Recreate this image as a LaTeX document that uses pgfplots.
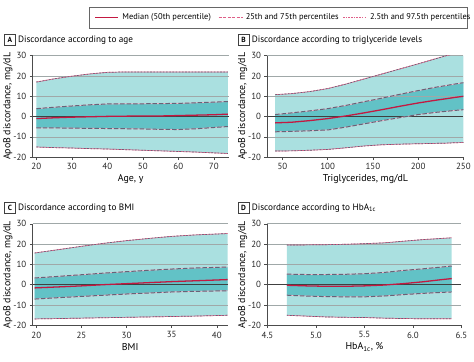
\documentclass[border=0pt]{standalone}
\usepackage{fontspec}
\setmainfont{PT Sans}
\usepackage{pgfplots}
\usepackage{pgfplotstable}
\pgfplotsset{compat=1.18}
\usepgfplotslibrary{fillbetween}

\definecolor{outerfill}{RGB}{170,224,224}
\definecolor{innerfill}{RGB}{98,194,198}
\definecolor{medred}{RGB}{195,25,65}
\definecolor{pinkl}{RGB}{222,95,135}
\definecolor{grayd}{RGB}{105,98,118}
\definecolor{gridc}{RGB}{160,168,168}

\pgfplotstableread{
x p025 p25 p50 p75 p975 top
20 -15.0 -5.6 -1.0 3.9 17.0 17.0
25 -15.3 -5.6 -0.6 4.6 18.6 18.6
30 -15.5 -5.7 -0.3 5.2 19.9 19.9
35 -15.8 -5.8 -0.1 5.8 21.0 21.0
40 -16.0 -5.9 0.1 6.2 21.8 21.8
45 -16.3 -6.0 0.2 6.3 22.0 22.0
50 -16.6 -6.1 0.3 6.3 22.0 22.0
55 -16.9 -6.3 0.3 6.4 22.0 22.0
60 -17.2 -6.4 0.5 6.5 22.0 22.0
65 -17.5 -6.0 0.7 6.8 22.0 22.0
70 -17.9 -5.4 0.9 7.1 22.0 22.0
74 -18.2 -4.9 1.2 7.4 22.0 22.0
}\tabA

\pgfplotstableread{
x p025 p25 p50 p75 p975 top
42 -17.0 -7.5 -3.1 1.0 10.8 10.8
60 -16.9 -7.3 -2.8 1.8 11.3 11.3
80 -16.6 -7.0 -2.0 2.8 12.3 12.3
100 -16.2 -6.6 -1.0 3.9 13.8 13.8
120 -15.4 -5.2 0.3 5.5 16.0 16.0
140 -14.5 -3.6 1.8 7.3 18.5 18.5
160 -13.9 -2.0 3.4 9.1 21.0 21.0
180 -13.6 -0.5 5.1 11.0 23.5 23.5
200 -13.4 1.0 6.7 12.8 26.0 26.0
220 -13.2 2.1 8.1 14.5 28.6 28.6
231 -13.1 2.6 8.8 15.3 30.0 30.0
240 -12.9 3.0 9.4 16.0 31.0 30.0
250 -12.8 3.4 10.0 16.7 32.0 30.0
}\tabB

\pgfplotstableread{
x p025 p25 p50 p75 p975 top
19.8 -16.9 -7.1 -1.6 3.3 15.6 15.6
22.5 -16.7 -6.4 -1.1 4.1 17.3 17.3
25 -16.5 -5.8 -0.6 4.9 18.9 18.9
27.5 -16.3 -5.2 0.0 5.7 20.4 20.4
30 -16.1 -4.6 0.5 6.4 21.7 21.7
32.5 -15.9 -4.1 1.0 7.1 22.8 22.8
35 -15.7 -3.6 1.5 7.7 23.8 23.8
37.5 -15.5 -3.3 1.9 8.2 24.5 24.5
41.2 -15.1 -3.0 2.5 8.7 25.2 25.2
}\tabC

\pgfplotstableread{
x p025 p25 p50 p75 p975 top
4.7 -15.1 -5.2 -0.3 5.2 19.5 19.5
4.9 -15.5 -5.6 -0.6 5.0 19.6 19.6
5.1 -15.9 -5.9 -0.8 5.0 19.7 19.7
5.3 -16.1 -6.0 -0.8 5.1 19.9 19.9
5.5 -16.2 -6.0 -0.6 5.4 20.2 20.2
5.7 -16.5 -5.6 -0.2 6.0 20.6 20.6
5.9 -16.7 -4.9 0.5 7.0 21.4 21.4
6.1 -16.8 -4.3 1.4 7.8 22.2 22.2
6.3 -16.8 -3.8 2.5 8.7 22.8 22.8
6.4 -16.8 -3.6 3.0 9.2 23.1 23.1
}\tabD

\pgfplotsset{
  panel/.style={
    set layers, scale only axis, height=102bp,
    ymin=-20, ymax=30, ytick={-20,-10,0,10,20,30},
    axis x line*=bottom, axis y line*=left,
    axis line style={draw=black!70, line width=0.6pt},
    ymajorgrids, grid style={draw=gridc, line width=0.6pt},
    extra y ticks={0}, extra y tick labels={},
    extra y tick style={grid style={draw=black!75, line width=0.9pt}},
    tick style={draw=black!70, line width=0.5pt},
    major tick length=3bp, tick align=outside,
    ticklabel style={font=\fontsize{9}{10}\selectfont, text=black!85},
    /pgf/number format/assume math mode=true,
    label style={font=\fontsize{9}{10}\selectfont, text=black!85},
    ylabel={ApoB discordance, mg/dL},
    every axis y label/.style={at={(rel axis cs:0,0.5)}, xshift=-25bp, rotate=90, anchor=center},
    every axis x label/.style={at={(rel axis cs:0.5,0)}, yshift=-22bp, anchor=center},
    anchor=south west,
  },
}

\newcommand{\bands}[1]{%
  \addplot[draw=none, forget plot, name path=pa] table[x=x,y=p025]{#1};
  \addplot[draw=none, forget plot, name path=pb] table[x=x,y=top]{#1};
  \addplot[draw=none, forget plot, name path=pc] table[x=x,y=p25]{#1};
  \addplot[draw=none, forget plot, name path=pd] table[x=x,y=p75]{#1};
  \addplot[outerfill, forget plot] fill between[of=pb and pa, on layer=axis background];
  \addplot[innerfill, forget plot] fill between[of=pd and pc, on layer=axis background];
  \addplot[pinkl, line width=0.7pt, forget plot] table[x=x,y=p025]{#1};
  \addplot[grayd, line width=0.7pt, dash pattern=on 1.6bp off 1.6bp, forget plot] table[x=x,y=p025]{#1};
  \addplot[pinkl, line width=0.7pt, forget plot] table[x=x,y=p975]{#1};
  \addplot[grayd, line width=0.7pt, dash pattern=on 1.6bp off 1.6bp, forget plot] table[x=x,y=p975]{#1};
  \addplot[pinkl!45, line width=0.8pt, forget plot] table[x=x,y=p25]{#1};
  \addplot[grayd, line width=1.0pt, dash pattern=on 4.5bp off 2bp, forget plot] table[x=x,y=p25]{#1};
  \addplot[pinkl!45, line width=0.8pt, forget plot] table[x=x,y=p75]{#1};
  \addplot[grayd, line width=1.0pt, dash pattern=on 4.5bp off 2bp, forget plot] table[x=x,y=p75]{#1};
  \addplot[medred, line width=1.3pt, forget plot] table[x=x,y=p50]{#1};
}

\newcommand{\paneltitle}[4]{%
  \node[draw=black!75, line width=0.5pt, minimum width=11bp, minimum height=11bp, inner sep=0pt,
        font=\bfseries\fontsize{7.5}{8}\selectfont] at (#1bp,-#2bp) {#3};
  \node[anchor=west, inner sep=0pt, font=\fontsize{9.3}{10}\selectfont] at (#1bp+8bp,-#2bp) {#4};
}

\begin{document}
\begin{tikzpicture}
\path (0,0) rectangle (474bp,-363bp);

% legend box and keys
\draw[black!60, line width=0.5pt] (89bp,-7bp) rectangle (469bp,-28bp);
\draw[medred, line width=1.4pt] (95bp,-17.5bp) -- (118bp,-17.5bp);
\node[anchor=west, inner sep=0pt, font=\fontsize{8.5}{9}\selectfont] at (122bp,-17.5bp) {Median (50th percentile)};
\draw[pinkl, line width=0.8pt, dash pattern=on 3bp off 1.5bp] (219bp,-17.5bp) -- (243bp,-17.5bp);
\node[anchor=west, inner sep=0pt, font=\fontsize{8.5}{9}\selectfont] at (246bp,-17.5bp) {25th and 75th percentiles};
\draw[pinkl, line width=0.8pt, dash pattern=on 1.5bp off 1.2bp] (344bp,-17.5bp) -- (367bp,-17.5bp);
\node[anchor=west, inner sep=0pt, font=\fontsize{8.5}{9}\selectfont] at (371bp,-17.5bp) {2.5th and 97.5th percentiles};

\begin{axis}[panel, at={(32bp,-158bp)}, width=197bp,
  xmin=19, xmax=74.2, xtick={20,30,40,50,60,70}, xlabel={Age, y}]
  \bands{\tabA}
\end{axis}

\begin{axis}[panel, at={(268bp,-158bp)}, width=197bp,
  xmin=33.5, xmax=250, xtick={50,100,150,200,250}, xlabel={Triglycerides, mg/dL}]
  \bands{\tabB}
\end{axis}

\begin{axis}[panel, at={(32bp,-327bp)}, width=196bp,
  xmin=19.6, xmax=41.2, xtick={20,25,30,35,40}, xlabel={BMI}]
  \bands{\tabC}
\end{axis}

\begin{axis}[panel, at={(268bp,-327bp)}, width=195bp,
  xmin=4.5, xmax=6.5, xtick={4.5,5.0,5.5,6.0,6.5},
  xticklabel style={/pgf/number format/.cd, fixed, fixed zerofill, precision=1},
  xlabel={HbA\textsubscript{1c}, \%}]
  \bands{\tabD}
\end{axis}

\paneltitle{9}{40}{A}{Discordance according to age}
\paneltitle{244}{40}{B}{Discordance according to triglyceride levels}
\paneltitle{9}{209}{C}{Discordance according to BMI}
\paneltitle{244}{209}{D}{Discordance according to HbA\textsubscript{1c}}
\end{tikzpicture}
\end{document}
